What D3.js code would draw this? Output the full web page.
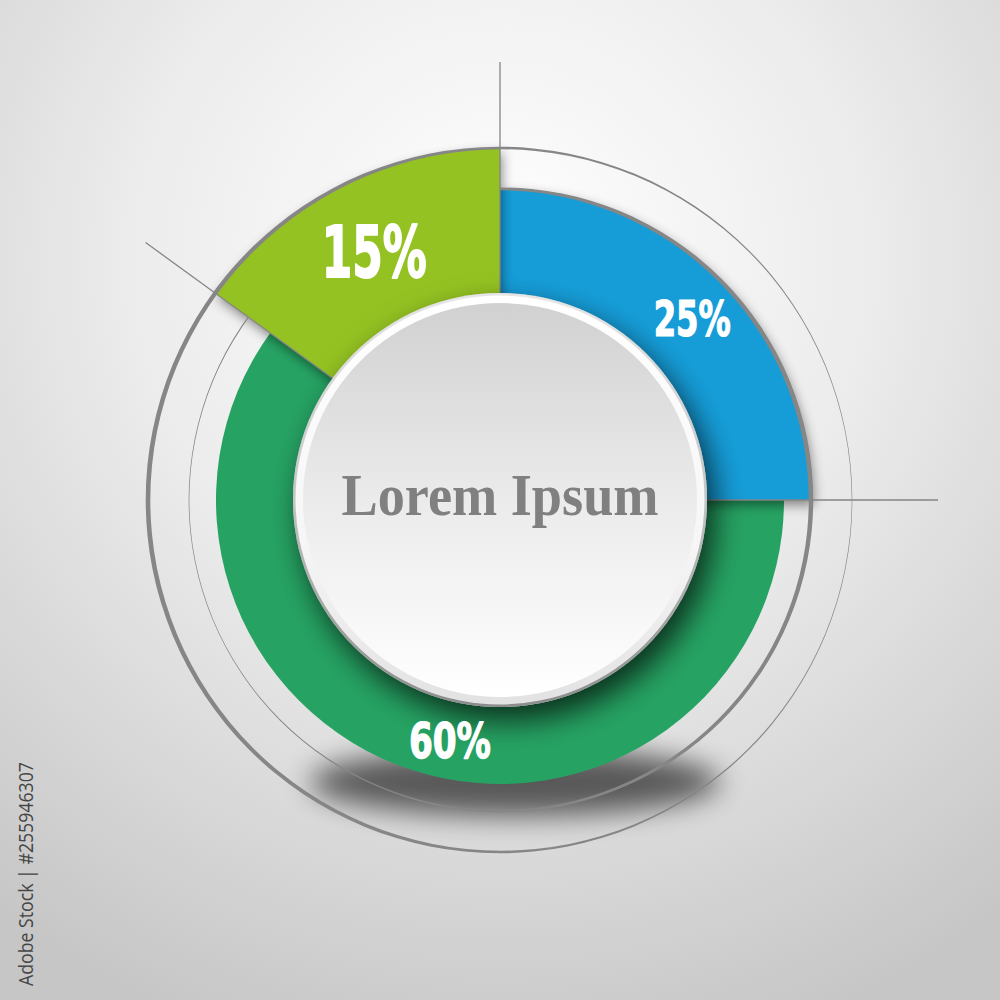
<!DOCTYPE html>
<html><head><meta charset="utf-8">
<script src="https://cdn.jsdelivr.net/npm/d3@7/dist/d3.min.js"></script>
<style>html,body{margin:0;padding:0;background:#e8e8e8;}svg{display:block}</style>
</head><body>
<svg id="chart" width="1000" height="1000"></svg>
<script>
// ---- data ----
const categories = ["Blue", "Green", "Lime"];
const values = [25, 60, 15];
const labels = ["25%", "60%", "15%"];
const centerTitle = ["Lorem Ipsum"];
const stockText = ["Adobe Stock | #255946307"];

// ---- styles / geometry (not data) ----
const W = 1000, H = 1000, cx = 500, cy = 500;
const innerR = 200, holeR = 207;
const segStyle = {
  Blue:  {outer: 312, c0: "#0d6ea3", c1: "#1390cb", c2: "#159dd8", labelR: 265, labelShift: 1.5, size: 49.5, len: 77},
  Green: {outer: 284, c0: "#136b3c", c1: "#1e8c51", c2: "#26a363", labelR: 245, labelShift: -6.2, size: 50, len: 82},
  Lime:  {outer: 352, c0: "#7aa518", c1: "#8cba1e", c2: "#94c220", labelR: 279, labelShift: 0.2, size: 71, len: 105}
};
const radius = d3.scaleOrdinal().domain(categories).range(categories.map(c => segStyle[c].outer));

const svg = d3.select("#chart");
const defs = svg.append("defs");

// background gradient
const bg = defs.append("radialGradient").attr("id", "bg")
  .attr("gradientUnits", "userSpaceOnUse").attr("cx", 500).attr("cy", 260).attr("r", 820);
bg.append("stop").attr("offset", 0).attr("stop-color", "#ffffff");
bg.append("stop").attr("offset", 0.45).attr("stop-color", "#ececec");
bg.append("stop").attr("offset", 1).attr("stop-color", "#c6c6c6");

// segment gradients (radial from chart centre)
categories.forEach(c => {
  const s = segStyle[c];
  const g = defs.append("radialGradient").attr("id", "g" + c)
    .attr("gradientUnits", "userSpaceOnUse").attr("cx", cx).attr("cy", cy).attr("r", s.outer);
  g.append("stop").attr("offset", holeR / s.outer).attr("stop-color", s.c0);
  g.append("stop").attr("offset", (holeR + (s.outer - holeR) * 0.45) / s.outer).attr("stop-color", s.c1);
  g.append("stop").attr("offset", 1).attr("stop-color", s.c2);
});

// filters
const blur = defs.append("filter").attr("id", "blur").attr("x", "-50%").attr("y", "-50%").attr("width", "200%").attr("height", "200%");
blur.append("feGaussianBlur").attr("stdDeviation", 14);

const segShadow = defs.append("filter").attr("id", "segShadow").attr("x", "-20%").attr("y", "-20%").attr("width", "140%").attr("height", "140%");
segShadow.append("feDropShadow").attr("dx", 2).attr("dy", 5).attr("stdDeviation", 6)
  .attr("flood-color", "#000").attr("flood-opacity", 0.45);

const holeShadow = defs.append("filter").attr("id", "holeShadow").attr("x", "-30%").attr("y", "-30%").attr("width", "160%").attr("height", "160%");
holeShadow.append("feDropShadow").attr("dx", 8).attr("dy", 14).attr("stdDeviation", 15)
  .attr("flood-color", "#000").attr("flood-opacity", 0.7);

// centre circle gradients
function vGrad(id, stops) {
  const g = defs.append("linearGradient").attr("id", id).attr("x1", 0).attr("y1", 0).attr("x2", 0).attr("y2", 1);
  stops.forEach(([o, c]) => g.append("stop").attr("offset", o).attr("stop-color", c));
}
vGrad("rimEdge", [[0, "#e6e6e6"], [0.5, "#c4c4c4"], [1, "#8c8c8c"]]);
vGrad("rim", [[0, "#ffffff"], [0.6, "#f6f6f6"], [1, "#e2e2e2"]]);
vGrad("face", [[0, "#d2d1d2"], [0.5, "#ebebeb"], [1, "#ffffff"]]);

// background
svg.append("rect").attr("width", W).attr("height", H).attr("fill", "url(#bg)");

// stock id text
svg.append("text")
  .attr("transform", "translate(33,762) rotate(-90)")
  .attr("text-anchor", "end")
  .attr("font-family", "'Open Sans', 'DejaVu Sans', sans-serif")
  .attr("font-size", 20).attr("fill", "#454545")
  .attr("textLength", 224).attr("lengthAdjust", "spacingAndGlyphs")
  .text(stockText[0]);

const g = svg.append("g").attr("transform", `translate(${cx},${cy})`);

// ground shadow under the donut
g.append("ellipse").attr("cx", 15).attr("cy", 282).attr("rx", 205).attr("ry", 34)
  .attr("fill", "#000").attr("opacity", 0.6).attr("filter", "url(#blur)");

// pie
const pie = d3.pie().sort(null).value(d => d.value);
const arcs = pie(categories.map((c, i) => ({cat: c, value: values[i], label: labels[i]})));
const arc = d3.arc().innerRadius(innerR).outerRadius(d => radius(d.data.cat));

// draw green first (it receives shadows), then others
const order = ["Green", "Blue", "Lime"];
order.forEach(c => {
  const d = arcs.find(a => a.data.cat === c);
  g.append("path").attr("d", arc(d)).attr("fill", `url(#g${c})`)
    .attr("filter", c === "Green" ? null : "url(#segShadow)");
});

// variable-width rings (crescents)
function crescent(R, t0, amp, thetaMaxDeg) {
  const phi = (thetaMaxDeg + 180) * Math.PI / 180;
  const ux = Math.sin(phi), uy = -Math.cos(phi);
  const R1 = R + t0 / 2, R2 = R - t0 / 2;
  const p = d3.path();
  const ax = -ux * amp / 2, ay = -uy * amp / 2;
  p.moveTo(ax + R1, ay); p.arc(ax, ay, R1, 0, Math.PI); p.arc(ax, ay, R1, Math.PI, 2 * Math.PI); p.closePath();
  const bx = ux * amp / 2, by = uy * amp / 2;
  p.moveTo(bx + R2, by); p.arc(bx, by, R2, 0, Math.PI); p.arc(bx, by, R2, Math.PI, 2 * Math.PI); p.closePath();
  return p.toString();
}
const limeArc = arcs.find(a => a.data.cat === "Lime");
defs.append("clipPath").attr("id", "noLime").append("path")
  .attr("d", d3.arc().innerRadius(0).outerRadius(460).startAngle(0).endAngle(limeArc.startAngle)());

g.append("g").attr("clip-path", "url(#noLime)")
  .append("path")
  .attr("d", crescent(radius("Blue") - 1, 2.6, 1.9, 80))
  .attr("fill", "#868686").attr("fill-rule", "evenodd");

g.append("path").attr("d", crescent(radius("Lime"), 2.6, 2.0, 270))
  .attr("fill", "#868686").attr("fill-rule", "evenodd");

// boundary lines
arcs.forEach(d => {
  const [x1, y1] = d3.pointRadial(d.startAngle, holeR - 2);
  const [x2, y2] = d3.pointRadial(d.startAngle, 438);
  g.append("line").attr("x1", x1).attr("y1", y1).attr("x2", x2).attr("y2", y2)
    .attr("stroke", "#858585").attr("stroke-width", 1.3);
});

// centre disc
const disc = g.append("g");
disc.append("circle").attr("r", holeR).attr("fill", "#bbb").attr("filter", "url(#holeShadow)");
disc.append("circle").attr("r", holeR).attr("fill", "url(#rimEdge)");
disc.append("circle").attr("r", holeR - 2.5).attr("fill", "url(#rim)");
disc.append("circle").attr("r", holeR - 10).attr("fill", "url(#face)");

g.append("text").attr("x", 0).attr("y", 15)
  .attr("text-anchor", "middle")
  .attr("font-family", "'Liberation Serif', 'DejaVu Serif', serif")
  .attr("font-weight", "bold").attr("font-size", 60)
  .attr("fill", "#808080")
  .attr("textLength", 317).attr("lengthAdjust", "spacingAndGlyphs")
  .text(centerTitle[0]);

// percentage labels
arcs.forEach(d => {
  const s = segStyle[d.data.cat];
  const a = (d.startAngle + d.endAngle) / 2 + s.labelShift * Math.PI / 180;
  const [x, y] = d3.pointRadial(a, s.labelR);
  const capH = s.size * 0.729;
  g.append("text")
    .attr("x", x - s.len / 2).attr("y", y + capH / 2)
    .attr("font-family", "'DejaVu Sans Condensed', 'DejaVu Sans', sans-serif")
    .attr("font-stretch", "condensed")
    .attr("font-weight", "bold").attr("font-size", s.size)
    .attr("fill", "#ffffff").attr("stroke", "#ffffff").attr("stroke-width", s.size / 40)
    .attr("stroke-linejoin", "round")
    .attr("textLength", s.len).attr("lengthAdjust", "spacingAndGlyphs")
    .text(d.data.label);
});
</script>
</body></html>
